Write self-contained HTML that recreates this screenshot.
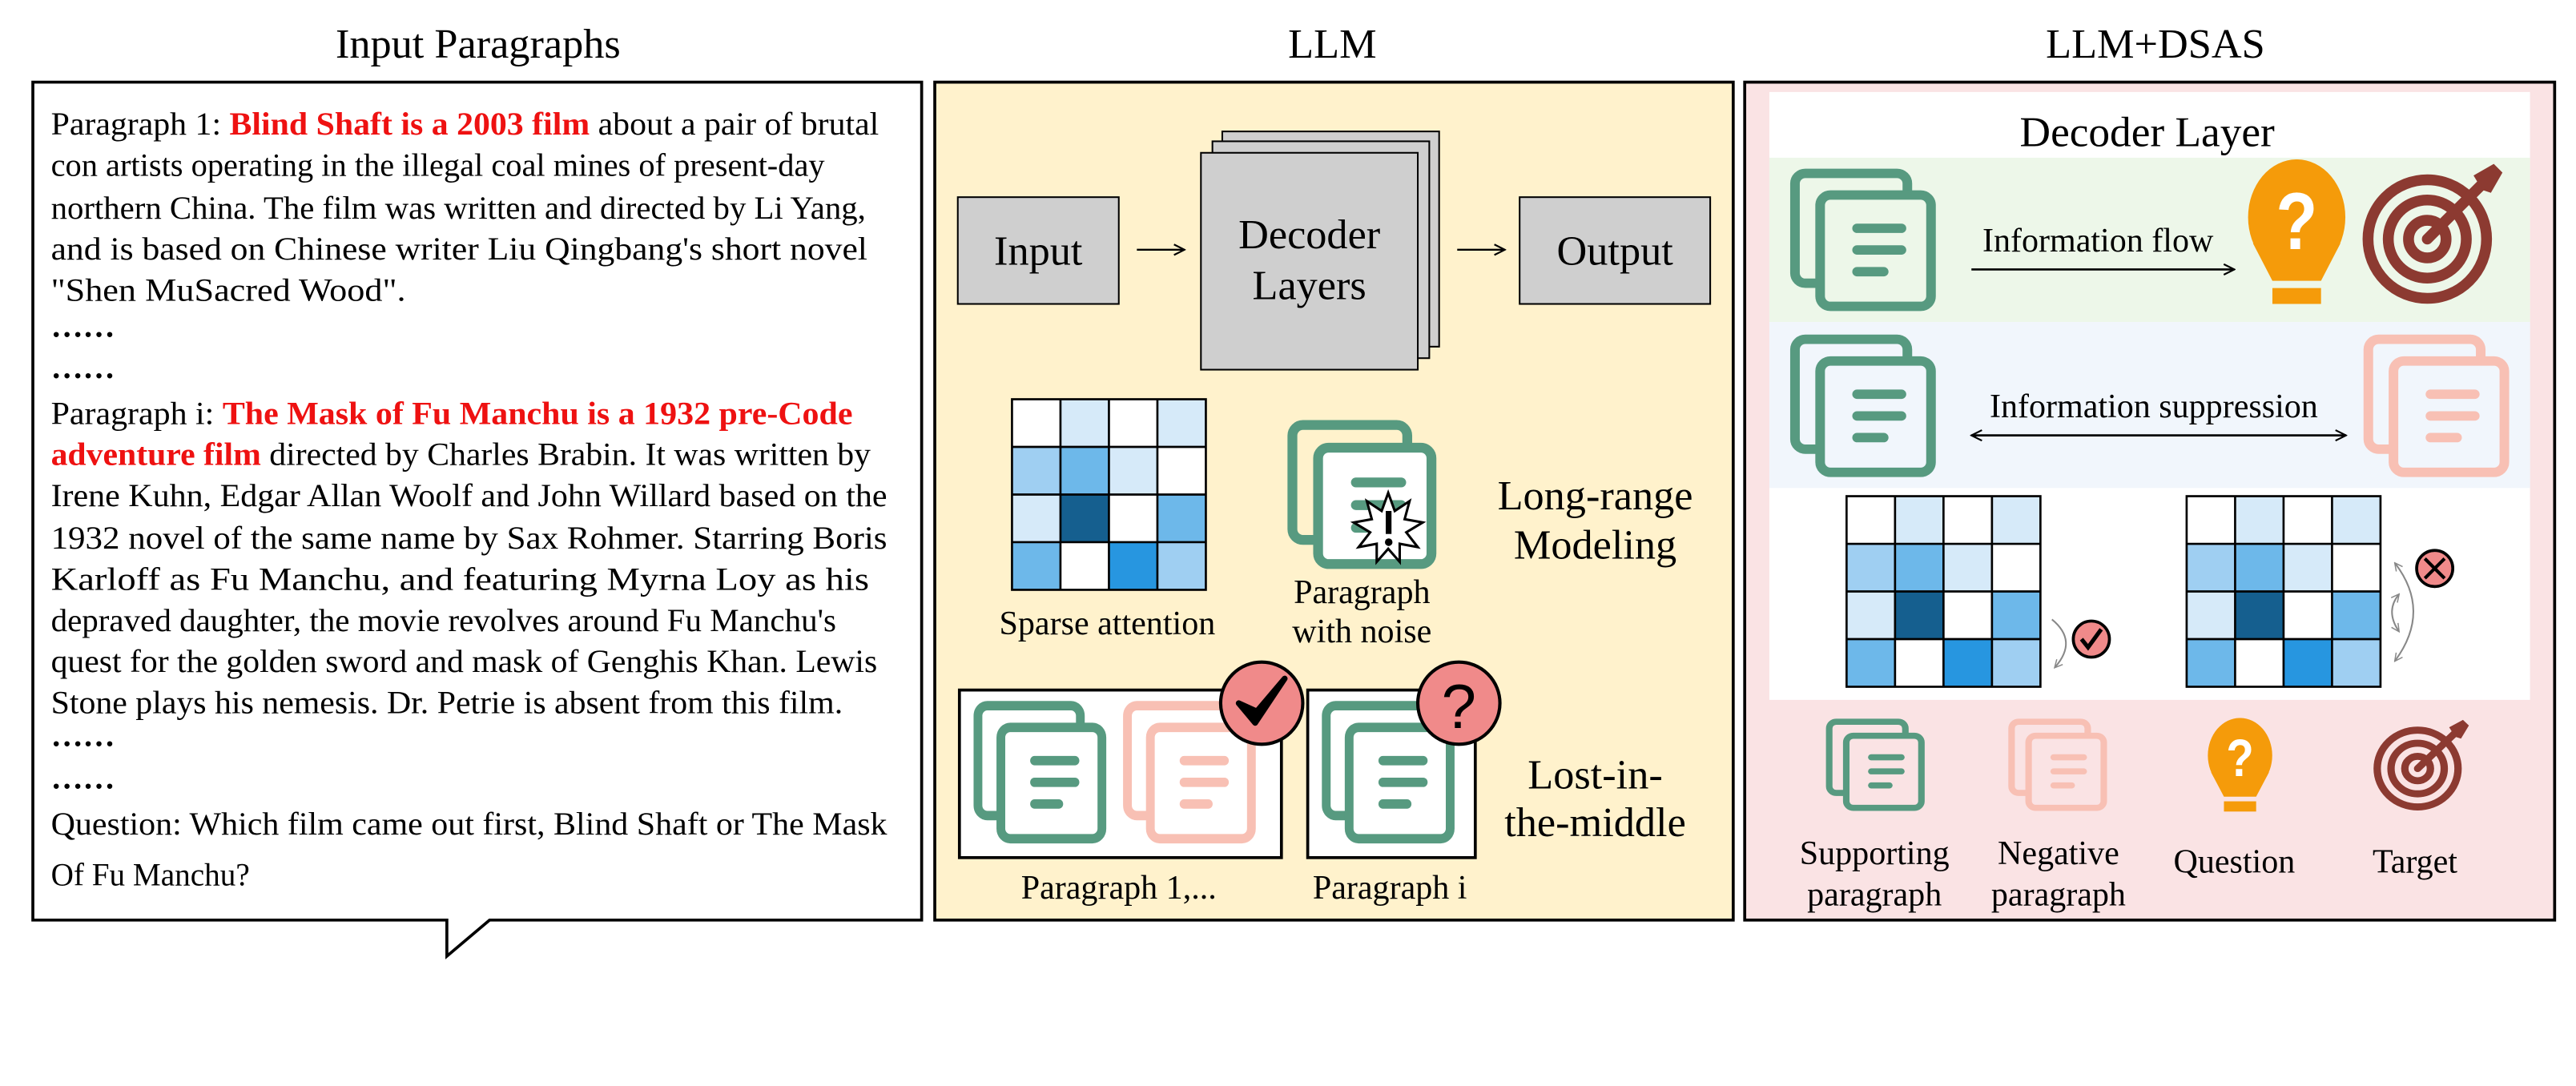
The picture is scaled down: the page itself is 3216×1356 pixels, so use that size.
<!DOCTYPE html>
<html><head><meta charset="utf-8"><style>
html,body{margin:0;padding:0;background:#fff;}
svg{display:block;}
text{font-family:"Liberation Serif",serif;}
</style></head><body>
<svg width="3216" height="1356" viewBox="0 0 1568 661" preserveAspectRatio="none" xmlns="http://www.w3.org/2000/svg">
<defs>
<symbol id="doc" viewBox="0 0 100 100" preserveAspectRatio="none">
<rect x="4" y="4" width="76" height="76" rx="7" fill="none" stroke="currentColor" stroke-width="6.5"/>
<rect x="21" y="19" width="75" height="77" rx="7" style="fill:var(--bg,#fff)" stroke="currentColor" stroke-width="6.5"/>
<g stroke="currentColor" stroke-width="6.5" stroke-linecap="round"><line x1="46" y1="42" x2="76" y2="42"/><line x1="46" y1="57" x2="76" y2="57"/><line x1="46" y1="72" x2="64" y2="72"/></g>
</symbol>
<symbol id="bulb" viewBox="0 0 100 100" preserveAspectRatio="none">
<circle cx="50" cy="40" r="40" fill="#f59b0a"/>
<path d="M14,58 L86,58 L70,84 L30,84 Z" fill="#f59b0a"/>
<rect x="30" y="89" width="40" height="11" fill="#f59b0a"/>
<text x="50" y="62" text-anchor="middle" font-weight="bold" font-size="56" fill="#fff" style="font-family:'Liberation Sans',sans-serif">?</text>
</symbol>
<symbol id="target" viewBox="0 0 100 100" preserveAspectRatio="none">
<g fill="none" stroke="#8c3a31" stroke-width="7.5"><circle cx="46" cy="54" r="41"/><circle cx="46" cy="54" r="27"/><circle cx="46" cy="54" r="13"/></g>
<line x1="46" y1="54" x2="86" y2="14" stroke="#8c3a31" stroke-width="7.5" stroke-linecap="round"/>
<path d="M78,10 L92,2 L98,8 L90,22 L84,20 Z" fill="#8c3a31"/>
</symbol>
<marker id="ah" viewBox="0 0 10 10" refX="9" refY="5" markerWidth="8" markerHeight="8" orient="auto-start-reverse" markerUnits="userSpaceOnUse"><path d="M1,1 L9,5 L1,9" fill="none" stroke="#000" stroke-width="1.3"/></marker>
<marker id="ahg" viewBox="0 0 10 10" refX="8" refY="5" markerWidth="6" markerHeight="6" orient="auto-start-reverse" markerUnits="userSpaceOnUse"><path d="M1,1 L9,5 L1,9" fill="none" stroke="#888" stroke-width="1.2"/></marker>
<g id="mat">
<rect x="0" y="0" width="29.5" height="29" fill="#fff"/><rect x="29.5" y="0" width="29.5" height="29" fill="#d6eaf9"/><rect x="59" y="0" width="29.5" height="29" fill="#fff"/><rect x="88.5" y="0" width="29.5" height="29" fill="#d6eaf9"/>
<rect x="0" y="29" width="29.5" height="29" fill="#9fcff2"/><rect x="29.5" y="29" width="29.5" height="29" fill="#6db8ea"/><rect x="59" y="29" width="29.5" height="29" fill="#d6eaf9"/><rect x="88.5" y="29" width="29.5" height="29" fill="#fff"/>
<rect x="0" y="58" width="29.5" height="29" fill="#d6eaf9"/><rect x="29.5" y="58" width="29.5" height="29" fill="#155f8f"/><rect x="59" y="58" width="29.5" height="29" fill="#fff"/><rect x="88.5" y="58" width="29.5" height="29" fill="#6db8ea"/>
<rect x="0" y="87" width="29.5" height="29" fill="#6db8ea"/><rect x="29.5" y="87" width="29.5" height="29" fill="#fff"/><rect x="59" y="87" width="29.5" height="29" fill="#2796e0"/><rect x="88.5" y="87" width="29.5" height="29" fill="#9fcff2"/>
<g stroke="#000" stroke-width="1.3" fill="none"><rect x="0" y="0" width="118" height="116"/><line x1="29.5" y1="0" x2="29.5" y2="116"/><line x1="59" y1="0" x2="59" y2="116"/><line x1="88.5" y1="0" x2="88.5" y2="116"/><line x1="0" y1="29" x2="118" y2="29"/><line x1="0" y1="58" x2="118" y2="58"/><line x1="0" y1="87" x2="118" y2="87"/></g>
</g>
</defs>

<g font-size="25.5" text-anchor="middle">
<text x="291" y="35">Input Paragraphs</text>
<text x="811" y="35">LLM</text>
<text x="1312" y="35">LLM+DSAS</text>
</g>

<path d="M20,50 L561,50 L561,560 L298,560 L272,582 L272,560 L20,560 Z" fill="#fff" stroke="#000" stroke-width="1.8"/>
<g font-size="19.5" fill="#000">
<text x="31" y="82" textLength="504" lengthAdjust="spacingAndGlyphs">Paragraph 1: <tspan fill="#ee1111" font-weight="bold">Blind Shaft is a 2003 film</tspan> about a pair of brutal</text>
<text x="31" y="107" textLength="471" lengthAdjust="spacingAndGlyphs">con artists operating in the illegal coal mines of present-day</text>
<text x="31" y="133" textLength="496" lengthAdjust="spacingAndGlyphs">northern China. The film was written and directed by Li Yang,</text>
<text x="31" y="158" textLength="497" lengthAdjust="spacingAndGlyphs">and is based on Chinese writer Liu Qingbang's short novel</text>
<text x="31" y="183" textLength="216" lengthAdjust="spacingAndGlyphs">"Shen MuSacred Wood".</text>
<text x="31" y="205" font-weight="bold">……</text>
<text x="31" y="230" font-weight="bold">……</text>
<text x="31" y="258" textLength="488" lengthAdjust="spacingAndGlyphs">Paragraph i: <tspan fill="#ee1111" font-weight="bold">The Mask of Fu Manchu is a 1932 pre-Code</tspan></text>
<text x="31" y="283" textLength="499" lengthAdjust="spacingAndGlyphs"><tspan fill="#ee1111" font-weight="bold">adventure film</tspan> directed by Charles Brabin. It was written by</text>
<text x="31" y="308" textLength="509" lengthAdjust="spacingAndGlyphs">Irene Kuhn, Edgar Allan Woolf and John Willard based on the</text>
<text x="31" y="334" textLength="509" lengthAdjust="spacingAndGlyphs">1932 novel of the same name by Sax Rohmer. Starring Boris</text>
<text x="31" y="359" textLength="498" lengthAdjust="spacingAndGlyphs">Karloff as Fu Manchu, and featuring Myrna Loy as his</text>
<text x="31" y="384" textLength="478" lengthAdjust="spacingAndGlyphs">depraved daughter, the movie revolves around Fu Manchu's</text>
<text x="31" y="409" textLength="503" lengthAdjust="spacingAndGlyphs">quest for the golden sword and mask of Genghis Khan. Lewis</text>
<text x="31" y="434" textLength="482" lengthAdjust="spacingAndGlyphs">Stone plays his nemesis. Dr. Petrie is absent from this film.</text>
<text x="31" y="454" font-weight="bold">……</text>
<text x="31" y="480" font-weight="bold">……</text>
<text x="31" y="508" textLength="509" lengthAdjust="spacingAndGlyphs">Question: Which film came out first, Blind Shaft or The Mask</text>
<text x="31" y="539" textLength="121" lengthAdjust="spacingAndGlyphs">Of Fu Manchu?</text>
</g>

<rect x="569" y="50" width="486" height="510" fill="#fff2cc" stroke="#000" stroke-width="1.8"/>
<rect x="583" y="120" width="98" height="65" fill="#cfcfcf" stroke="#000" stroke-width="1"/>
<text x="632" y="161" font-size="25.5" text-anchor="middle">Input</text>
<line x1="692" y1="152" x2="721" y2="152" stroke="#000" stroke-width="1.2" marker-end="url(#ah)"/>
<rect x="744" y="80" width="132" height="131" fill="#cfcfcf" stroke="#000" stroke-width="1"/>
<rect x="738" y="86" width="132" height="132" fill="#cfcfcf" stroke="#000" stroke-width="1"/>
<rect x="731" y="93" width="132" height="132" fill="#cfcfcf" stroke="#000" stroke-width="1"/>
<text x="797" y="151" font-size="25.5" text-anchor="middle">Decoder</text>
<text x="797" y="182" font-size="25.5" text-anchor="middle">Layers</text>
<line x1="887" y1="152" x2="916" y2="152" stroke="#000" stroke-width="1.2" marker-end="url(#ah)"/>
<rect x="925" y="120" width="116" height="65" fill="#cfcfcf" stroke="#000" stroke-width="1"/>
<text x="983" y="161" font-size="25.5" text-anchor="middle">Output</text>

<use href="#mat" transform="translate(616,243)"/>
<text x="674" y="386" font-size="20.5" text-anchor="middle">Sparse attention</text>

<use href="#doc" x="783" y="255" width="92" height="92" color="#579a80" style="--bg:#fff"/>
<polygon points="845,300 849,311 858,305 855,316 866,318 856,324 863,333 852,331 852,342 845,334 838,342 838,331 827,333 834,324 824,318 835,316 832,305 841,311" fill="#fff" stroke="#000" stroke-width="1.5"/>
<rect x="843.5" y="311" width="3.5" height="14" fill="#000"/><circle cx="845.3" cy="330" r="2.3" fill="#000"/>
<text x="829" y="367" font-size="20.5" text-anchor="middle">Paragraph</text>
<text x="829" y="391" font-size="20.5" text-anchor="middle">with noise</text>
<text x="971" y="310" font-size="25.5" text-anchor="middle">Long-range</text>
<text x="971" y="340" font-size="25.5" text-anchor="middle">Modeling</text>

<rect x="584" y="420" width="196" height="102" fill="#fff" stroke="#000" stroke-width="1.8"/>
<use href="#doc" x="592" y="426" width="82" height="88" color="#579a80" style="--bg:#fff"/>
<use href="#doc" x="683" y="426" width="82" height="88" color="#f8c0b4" style="--bg:#fff"/>
<circle cx="768" cy="428" r="25" fill="#f08a8a" stroke="#000" stroke-width="2"/>
<path d="M754,428 L764,440 L782,413 L765,433 Z" fill="#000" stroke="#000" stroke-width="3.5" stroke-linejoin="round"/>
<rect x="796" y="420" width="102" height="102" fill="#fff" stroke="#000" stroke-width="1.8"/>
<use href="#doc" x="804" y="426" width="82" height="88" color="#579a80" style="--bg:#fff"/>
<circle cx="888" cy="428" r="25" fill="#f08a8a" stroke="#000" stroke-width="2"/>
<text x="888" y="443" font-size="38" text-anchor="middle" style="font-family:'Liberation Sans',sans-serif">?</text>
<text x="681" y="547" font-size="20.5" text-anchor="middle">Paragraph 1,...</text>
<text x="846" y="547" font-size="20.5" text-anchor="middle">Paragraph i</text>
<text x="971" y="480" font-size="25.5" text-anchor="middle">Lost-in-</text>
<text x="971" y="509" font-size="25.5" text-anchor="middle">the-middle</text>

<rect x="1062" y="50" width="493" height="510" fill="#fae3e4" stroke="#000" stroke-width="1.8"/>
<rect x="1077" y="56" width="463" height="370" fill="#fff"/>
<rect x="1077" y="96" width="463" height="100" fill="#edf7e9"/>
<rect x="1077" y="196" width="463" height="101" fill="#f1f6fc"/>
<text x="1307" y="89" font-size="26" text-anchor="middle">Decoder Layer</text>

<use href="#doc" x="1089" y="102" width="90" height="88" color="#579a80" style="--bg:#edf7e9"/>
<text x="1277" y="153" font-size="20.5" text-anchor="middle">Information flow</text>
<line x1="1200" y1="164" x2="1360" y2="164" stroke="#000" stroke-width="1.3" marker-end="url(#ah)"/>
<use href="#bulb" x="1361" y="97" width="74" height="88"/>
<use href="#target" x="1437" y="98" width="88" height="88"/>

<use href="#doc" x="1089" y="203" width="90" height="88" color="#579a80" style="--bg:#f1f6fc"/>
<text x="1311" y="254" font-size="20.5" text-anchor="middle">Information suppression</text>
<line x1="1200" y1="265" x2="1428" y2="265" stroke="#000" stroke-width="1.3" marker-start="url(#ah)" marker-end="url(#ah)"/>
<use href="#doc" x="1438" y="203" width="90" height="88" color="#f8c0b4" style="--bg:#f1f6fc"/>

<use href="#mat" transform="translate(1124,302)"/>
<use href="#mat" transform="translate(1331,302)"/>
<path d="M1249,377 Q1265,390 1251,406" fill="none" stroke="#888" stroke-width="1" marker-end="url(#ahg)"/>
<circle cx="1273" cy="389" r="11" fill="#f08a8a" stroke="#000" stroke-width="1.8"/>
<path d="M1267,389 L1271,394 L1279,383" fill="none" stroke="#000" stroke-width="2.5"/>
<path d="M1458,343 Q1480,372 1458,402" fill="none" stroke="#888" stroke-width="1" marker-start="url(#ahg)" marker-end="url(#ahg)"/>
<path d="M1460,362 Q1452,372 1460,384" fill="none" stroke="#888" stroke-width="1" marker-start="url(#ahg)" marker-end="url(#ahg)"/>
<circle cx="1482" cy="346" r="11" fill="#f08a8a" stroke="#000" stroke-width="1.8"/>
<path d="M1476,340 L1488,352 M1488,340 L1476,352" stroke="#000" stroke-width="2"/>

<use href="#doc" x="1111" y="437" width="61" height="57" color="#579a80" style="--bg:#fae3e4"/>
<use href="#doc" x="1222" y="437" width="61" height="57" color="#f8c0b4" style="--bg:#fae3e4"/>
<use href="#bulb" x="1339" y="437" width="49" height="57"/>
<use href="#target" x="1444" y="437" width="60" height="57"/>
<g font-size="20.5" text-anchor="middle">
<text x="1141" y="526">Supporting</text><text x="1141" y="551">paragraph</text>
<text x="1253" y="526">Negative</text><text x="1253" y="551">paragraph</text>
<text x="1360" y="531">Question</text>
<text x="1470" y="531">Target</text>
</g>
</svg>
</body></html>
